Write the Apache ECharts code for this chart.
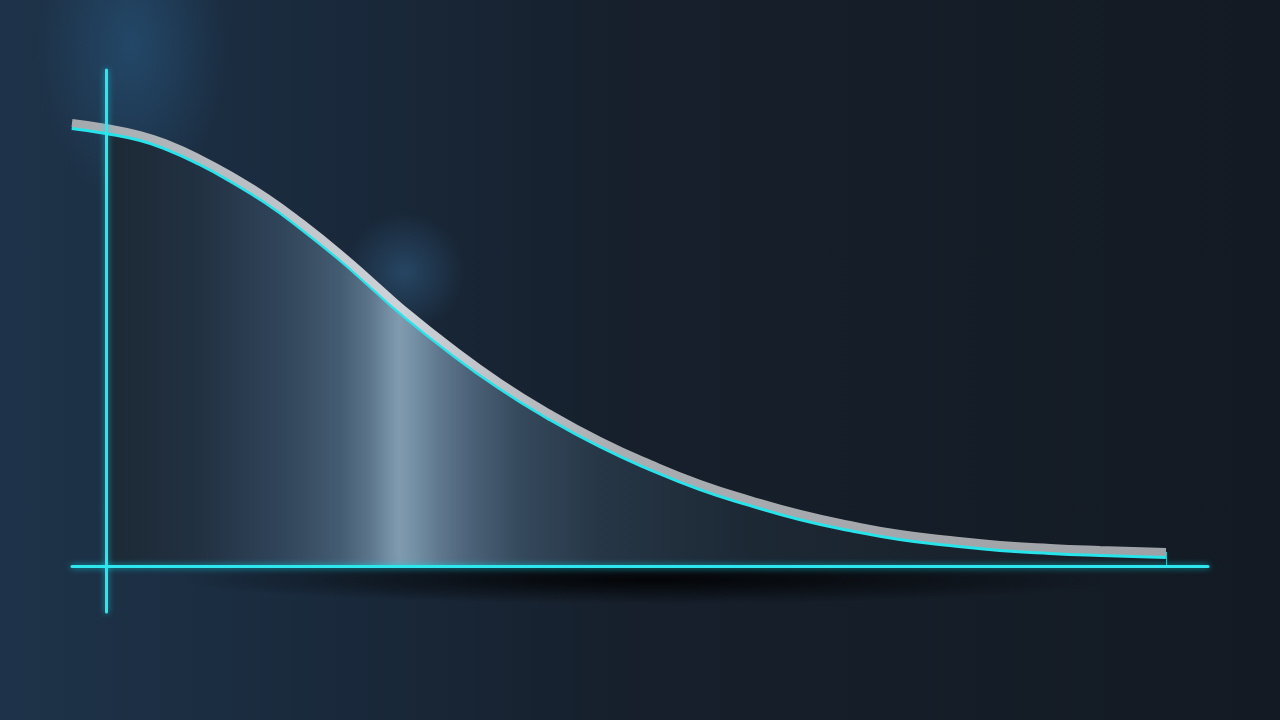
<!DOCTYPE html>
<html>
<head>
<meta charset="utf-8">
<script src="https://cdn.jsdelivr.net/npm/echarts@6/dist/echarts.min.js"></script>
<style>
html,body{margin:0;padding:0;width:1280px;height:720px;overflow:hidden;}
body{
  background:
    radial-gradient(ellipse 95px 160px at 132px 45px, rgba(45,105,155,0.42), rgba(45,105,155,0) 100%),
    radial-gradient(ellipse 60px 60px at 405px 272px, rgba(70,140,200,0.30), rgba(70,140,200,0) 100%),
    radial-gradient(ellipse 470px 24px at 650px 580px, rgba(0,0,0,0.85), rgba(0,0,0,0) 100%),
    linear-gradient(90deg, #1e3349 0%, #1a2b3e 22%, #161f2b 50%, #131a23 100%);
}
#chart{width:1280px;height:720px;}
</style>
</head>
<body>
<div id="chart"></div>
<script>
// curve samples (x, y in chart units)
var xValues = [-0.34, 0, 0.34, 0.61, 0.94, 1.27, 1.61, 1.94, 2.34, 2.67, 2.94, 3.44, 3.94, 4.44, 4.94, 5.44, 5.94, 6.44, 6.94, 7.44, 7.94, 8.44, 8.94, 9.44, 9.94, 10.60];
var yValues = [4.43, 4.38, 4.31, 4.22, 4.07, 3.89, 3.68, 3.44, 3.12, 2.83, 2.59, 2.19, 1.83, 1.52, 1.25, 1.02, 0.82, 0.66, 0.52, 0.41, 0.32, 0.26, 0.21, 0.18, 0.16, 0.14];
var xRange = [-0.34, 11.02];
var yRange = [-0.46, 4.96];

var points = xValues.map(function (x, i) { return [x, yValues[i]]; });
var areaPoints = points.filter(function (p) { return p[0] >= 0; });
var lastX = xValues[xValues.length - 1];
var lastY = yValues[yValues.length - 1];

var chart = echarts.init(document.getElementById('chart'), null, {renderer: 'canvas'});
var G = echarts.graphic.LinearGradient;
var axisLine = {
  show: true, onZero: true,
  lineStyle: {color: '#2fe6ef', width: 3, shadowColor: 'rgba(0,230,240,0.7)', shadowBlur: 6}
};
chart.setOption({
  backgroundColor: 'transparent',
  animation: false,
  grid: {left: 72, right: 72, top: 70, bottom: 108},
  xAxis: {
    type: 'value', min: xRange[0], max: xRange[1], z: 5,
    axisLine: axisLine, axisTick: {show: false}, axisLabel: {show: false}, splitLine: {show: false}
  },
  yAxis: {
    type: 'value', min: yRange[0], max: yRange[1], z: 5,
    axisLine: axisLine, axisTick: {show: false}, axisLabel: {show: false}, splitLine: {show: false}
  },
  series: [{
    type: 'line',
    data: areaPoints,
    smooth: 0.5,
    showSymbol: false,
    symbol: 'none',
    z: 1,
    lineStyle: {width: 0, opacity: 0},
    areaStyle: {
      origin: 'auto',
      opacity: 1,
      color: new G(0, 0, 1, 0, [
        {offset: 0, color: '#1c2935'},
        {offset: 0.089, color: '#223142'},
        {offset: 0.164, color: '#30445a'},
        {offset: 0.183, color: '#364b60'},
        {offset: 0.221, color: '#445c72'},
        {offset: 0.249, color: '#5c758b'},
        {offset: 0.268, color: '#7690a6'},
        {offset: 0.277, color: '#809aae'},
        {offset: 0.291, color: '#7490a5'},
        {offset: 0.315, color: '#5f778d'},
        {offset: 0.343, color: '#4c6278'},
        {offset: 0.391, color: '#35495c'},
        {offset: 0.466, color: '#263646'},
        {offset: 0.608, color: '#1c2834'},
        {offset: 1, color: '#161e27'}
      ])
    }
  }, {
    type: 'line',
    data: points,
    smooth: 0.5,
    showSymbol: false,
    symbol: 'none',
    z: 3,
    lineStyle: {
      width: 8,
      cap: 'butt',
      color: new G(0, 0, 1, 0, [
        {offset: 0, color: '#a3a8ad'},
        {offset: 0.3, color: '#cdd2d8'},
        {offset: 0.5, color: '#a9adb2'},
        {offset: 1, color: '#9ea2a6'}
      ]),
      shadowColor: '#27e3ea',
      shadowBlur: 0,
      shadowOffsetY: 3
    },
    markLine: {
      silent: true,
      symbol: 'none',
      label: {show: false},
      lineStyle: {color: '#2fe6ef', width: 1, type: 'solid', opacity: 0.8},
      data: [[{coord: [lastX, 0]}, {coord: [lastX, lastY]}]]
    }
  }]
});
</script>
</body>
</html>
